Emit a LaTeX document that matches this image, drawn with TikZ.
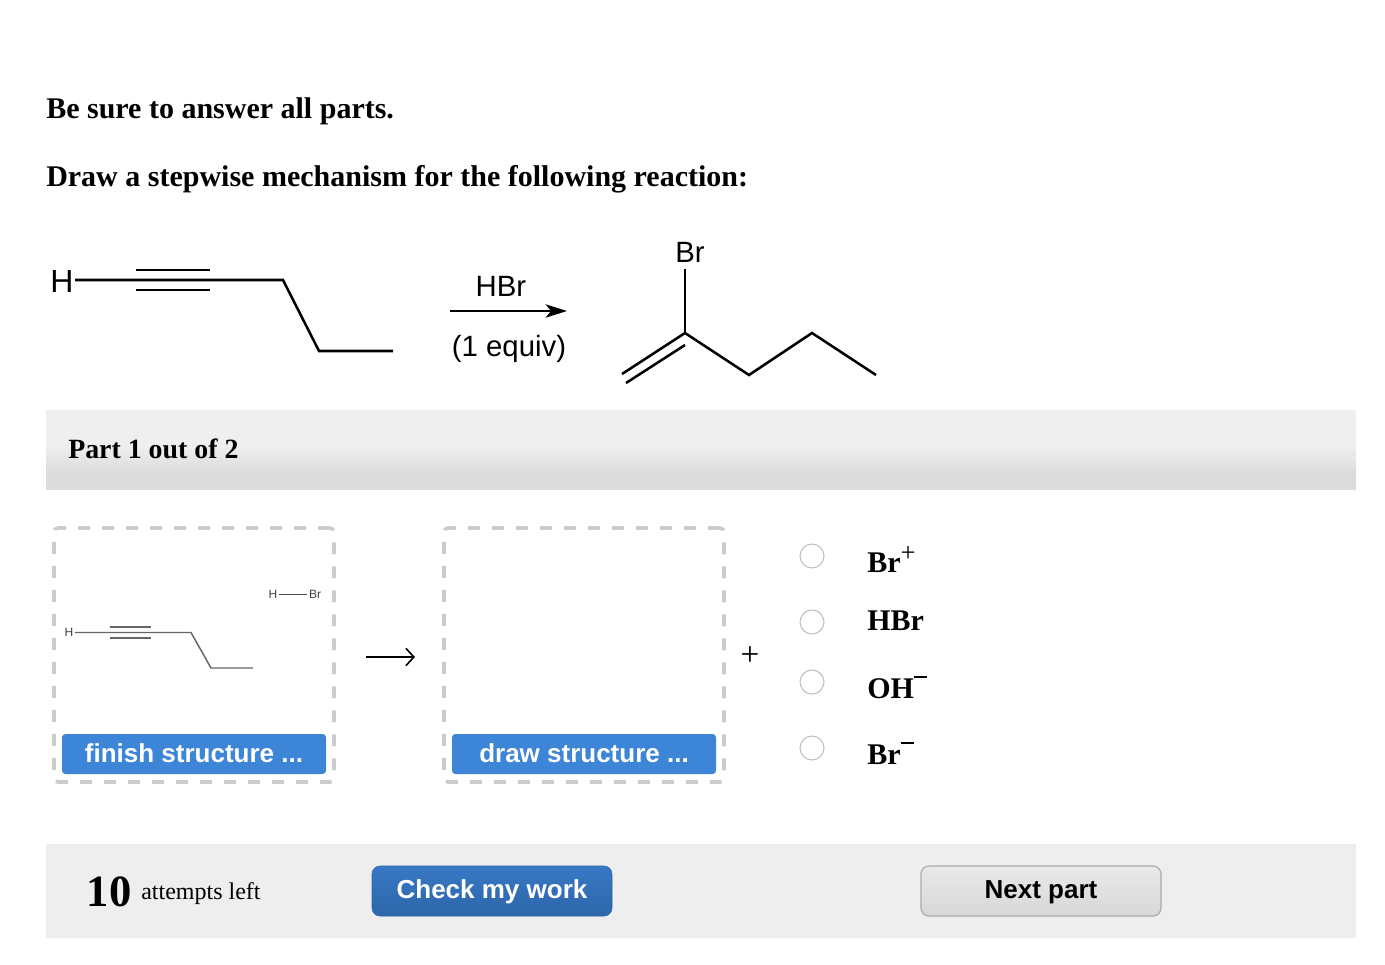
\documentclass[tikz,border=0pt]{standalone}
\usepackage{fontspec}
\setmainfont{Liberation Serif}
\setsansfont{Liberation Sans}
\usepackage{xcolor}
\usetikzlibrary{arrows.meta,positioning,calc}
\definecolor{bandtop}{HTML}{EFEFEF}
\definecolor{bandlow}{HTML}{DCDCDC}
\definecolor{footband}{HTML}{EEEEEE}
\definecolor{dashgray}{HTML}{CCCCCC}
\definecolor{btnblue}{HTML}{3D85D6}
\definecolor{checktop}{HTML}{3778C3}
\definecolor{checklow}{HTML}{2D66AA}
\definecolor{nexttop}{HTML}{E9E9E9}
\definecolor{nextlow}{HTML}{D7D7D7}
\definecolor{sketchgray}{HTML}{666666}
\tikzset{
  heading/.style={anchor=base west, inner sep=0pt, font=\fontsize{22.5}{24}\selectfont\bfseries},
  atom/.style={font=\sffamily\fontsize{22}{24}\selectfont, inner sep=1pt},
  smallatom/.style={font=\sffamily\fontsize{9}{10}\selectfont, text=black!75, inner sep=1pt},
  bond/.style={line width=1.9pt},
  thinbond/.style={line width=1.1pt, sketchgray},
  dropbox/.style={draw=dashgray, line width=2.7pt, rounded corners=3pt, dash pattern=on 9pt off 9pt,
    minimum width=210pt, minimum height=190.5pt, inner sep=0pt},
  actionbtn/.style={fill=btnblue, rounded corners=2.5pt, text=white, minimum width=198pt, minimum height=30pt,
    inner sep=0pt, text depth=1.5pt, font=\sffamily\bfseries\fontsize{19.5}{22}\selectfont},
  radiobtn/.style={circle, draw=black!25, fill=white, line width=0.8pt, minimum size=18pt, inner sep=0pt},
  ionlab/.style={anchor=base west, inner sep=0pt, font=\fontsize{22.5}{24}\selectfont\bfseries},
  footbtn/.style={rounded corners=6pt, minimum width=180pt, minimum height=37.5pt, inner sep=0pt,
    text height=15.7pt, text depth=4.1pt, font=\sffamily\bfseries\fontsize{19.5}{22}\selectfont},
  arrow/.style={-{Stealth[length=16pt,width=10pt,inset=4pt]}, line width=1.5pt},
  thinarrow/.style={-{Straight Barb[length=6pt,width=13pt]}, line width=1.2pt},
}
\newcommand{\ionup}[1]{\raisebox{0.36em}{\fontsize{20}{20}\selectfont\mdseries #1}}

\begin{document}
\begin{tikzpicture}[x=0.75pt,y=-0.75pt]
\useasboundingbox (0,0) rectangle (1385,964);
\node[heading] (sure) at (46,118) {Be sure to answer all parts.};
\node[heading] (draw) at (46,186) {Draw a stepwise mechanism for the following reaction:};

% starting alkyne
\node[atom, font=\sffamily\fontsize{24}{24}\selectfont] (h1) at (62,281) {H};
\coordinate (c2) at (283,280);
\coordinate (c3) at (319,351);
\coordinate (c4) at (393,351);
\coordinate (ta) at (136,270);
\coordinate (tb) at (210,270);
\coordinate (tc) at (136,290);
\coordinate (td) at (210,290);
\draw[bond] (h1.east |- c2) -- (c2) -- (c3) -- (c4);
\draw[bond] (ta) -- (tb);
\draw[bond] (tc) -- (td);

% reaction arrow
\coordinate (ra) at (450,311);
\coordinate (rb) at (567,311);
\draw[arrow] (ra) -- (rb);
\node[atom] (hbr) at (501,286) {HBr};
\node[atom] (equiv) at (509,349) {(1 equiv)};

% product
\node[atom] (br) at (690,252) {Br};
\coordinate (p1) at (685,269);
\coordinate (p2) at (685,333);
\coordinate (p3) at (749,375);
\coordinate (p4) at (812,333);
\coordinate (p5) at (876,375);
\coordinate (p6) at (622,374);
\coordinate (p7) at (685,345);
\coordinate (p8) at (626,383);
\draw[bond] (p1) -- (p2);
\draw[bond] (p6) -- (p2) -- (p3) -- (p4) -- (p5);
\draw[bond] (p7) -- (p8);

% part header
\fill[bandtop] (46,410) rectangle (1356,446);
\shade[top color=bandtop, bottom color=bandlow] (46,446) rectangle (1356,472);
\fill[bandlow] (46,472) rectangle (1356,490);
\node[heading, font=\fontsize{20.9}{24}\selectfont\bfseries] (part) at (68,458) {Part 1 out of 2};

% answer boxes
\node[dropbox] (box1) at (194,655) {};
\node[dropbox] (box2) at (584,655) {};
\node[actionbtn] (finish) at (194,754) {finish structure ...};
\node[actionbtn] (drawbtn) at (584,754) {draw structure ...};

\node[smallatom] (h2) at (69,632) {H};
\coordinate (s2) at (191,632.5);
\coordinate (s3) at (211,668);
\coordinate (s4) at (253,668);
\coordinate (sa) at (110,627);
\coordinate (sb) at (151,627);
\coordinate (sc) at (110,638);
\coordinate (sd) at (151,638);
\draw[thinbond] (h2.east |- s2) -- (s2) -- (s3) -- (s4);
\draw[thinbond] (sa) -- (sb);
\draw[thinbond] (sc) -- (sd);
\node[smallatom] (h3) at (273,594.5) {H};
\node[smallatom] (br3) at (315,594.5) {Br};
\draw[line width=0.9pt, black!70] (h3) -- (br3);

\coordinate (ya) at (366,657);
\coordinate (yb) at (415,657);
\draw[thinarrow] (ya) -- (yb);
\node[font=\fontsize{25}{25}\selectfont, inner sep=0pt] (plus) at (750,656) {+};

% choices
\node[radiobtn] (r1) at (812,556) {};
\node[radiobtn] (r2) at (812,622) {};
\node[radiobtn] (r3) at (812,682) {};
\node[radiobtn] (r4) at (812,748) {};
\node[ionlab] (ion1) at (867,572) {Br\ionup{+}};
\node[ionlab] (ion2) at (867,630) {HBr};
\node[ionlab] (ion3) at (867,698) {OH\ionup{\rule[0.345em]{0.5em}{0.07em}}};
\node[ionlab] (ion4) at (867,764) {Br\ionup{\rule[0.345em]{0.5em}{0.07em}}};

% footer
\fill[footband] (46,844) rectangle (1356,938);
\node[anchor=base west, inner sep=0pt, font=\fontsize{33.5}{36}\selectfont\bfseries] (count) at (86.5,906) {10};
\node[anchor=base west, inner sep=0pt, font=\fontsize{18}{20}\selectfont] (left) at (141,899) {attempts left};
\node[footbtn, top color=checktop, bottom color=checklow, draw=checklow, text=white] (check) at (492,891) {Check my work};
\node[footbtn, top color=nexttop, bottom color=nextlow, draw=black!33, line width=0.9pt] (next) at (1041,891) {Next part};
\end{tikzpicture}
\end{document}
